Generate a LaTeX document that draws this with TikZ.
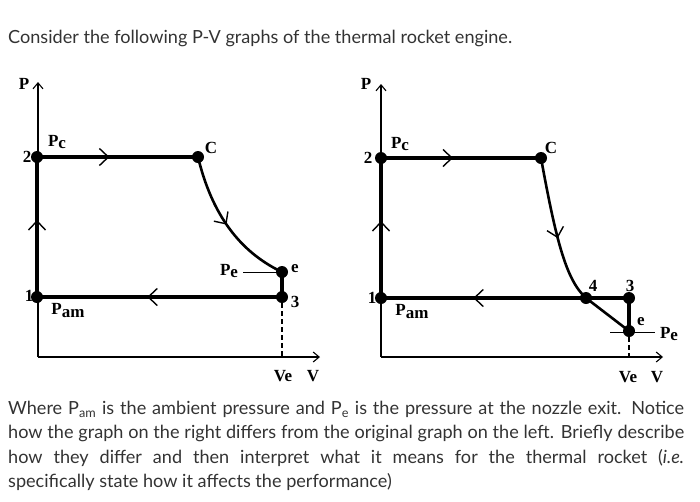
\documentclass[tikz,border=0pt]{standalone}
\usepackage{fontspec}
\setmainfont{Liberation Serif}
\newfontfamily\bodyfont{Lato}
\usetikzlibrary{arrows.meta,decorations.markings}
\tikzset{
  cyc/.style={line width=3.6pt},
  ax/.style={line width=1.1pt,-{Straight Barb[length=6pt,width=10pt]}},
  dot/.style={circle,fill=black,inner sep=0pt,minimum size=12pt},
  lbl/.style={font=\bfseries\fontsize{17}{18}\selectfont,inner sep=1pt},
  guide/.style={line width=1.1pt,dash pattern=on 5pt off 3pt},
  midarr/.style={postaction={decorate,decoration={markings,
    mark=at position #1 with {\arrow[line width=1.4pt]{Straight Barb[length=9pt,width=17pt]}}}}},
  body/.style={font=\bodyfont\fontsize{18.1}{24.4}\selectfont,color=black!80,inner sep=0pt}
}
\begin{document}
\begin{tikzpicture}[x=1pt,y=-1pt]
\useasboundingbox (0,0) rectangle (700,501);

\node[body,anchor=base west] (title) at (8,43) {Consider the following P-V graphs of the thermal rocket engine.};

% left graph
\coordinate (lo) at (38,357);
\coordinate (ltop) at (38,82);
\coordinate (lright) at (320,357);
\draw[ax] (lo) -- (ltop);
\draw[ax] (lo) -- (lright);
\node[dot] (l2) at (37,157) {};
\node[dot] (lC) at (198,157) {};
\node[dot] (le) at (282,272) {};
\node[dot] (l3) at (282,297) {};
\node[dot] (l1) at (37,297) {};
\coordinate (lve) at (282,357);
\draw[cyc,midarr=0.45] (l2.center) -- (lC.center);
\draw[line width=2.6pt,midarr=0.5] (lC.center) .. controls (212,215) and (240,252) .. (le.center);
\draw[cyc] (le.center) -- (l3.center);
\draw[cyc,midarr=0.55] (l3.center) -- (l1.center);
\draw[cyc,midarr=0.55] (l1.center) -- (l2.center);
\draw[guide] (l3) -- (lve);
\draw[line width=1pt] (243,272) -- (le);
\node[lbl] at (24,84) {P};
\node[lbl] at (57,142) {P\raisebox{-2pt}{c}};
\node[lbl] at (27,157) {2};
\node[lbl] at (211,148) {C};
\node[lbl] at (229,271) {P\raisebox{-2pt}{e}};
\node[lbl] at (295,269) {e};
\node[lbl] at (295,302) {3};
\node[lbl] at (29,296) {1};
\node[lbl] at (68,311) {P\raisebox{-3pt}{am}};
\node[lbl] at (283,376) {Ve};
\node[lbl] at (313,376) {V};

% right graph
\coordinate (ro) at (381,357);
\coordinate (rtop) at (381,84);
\coordinate (rright) at (663,357);
\draw[ax] (ro) -- (rtop);
\draw[ax] (ro) -- (rright);
\node[dot] (r2) at (381,158) {};
\node[dot] (rC) at (541,158) {};
\node[dot] (r4) at (586,298) {};
\node[dot] (r3) at (629,298) {};
\node[dot] (re) at (629,331) {};
\node[dot] (r1) at (381,298) {};
\coordinate (rve) at (629,357);
\draw[cyc,midarr=0.45] (r2.center) -- (rC.center);
\draw[line width=2.6pt,midarr=0.55] (rC.center) .. controls (556,240) and (566,280) .. (r4.center);
\draw[line width=2.6pt] (r4.center) -- (re.center);
\draw[cyc] (r4.center) -- (r3.center);
\draw[cyc] (r3.center) -- (re.center);
\draw[cyc,midarr=0.55] (r4.center) -- (r1.center);
\draw[cyc,midarr=0.55] (r1.center) -- (r2.center);
\draw[guide] (re) -- (rve);
\draw[line width=1pt] (610,332) -- (655,332);
\node[lbl] at (366,84) {P};
\node[lbl] at (400,144) {P\raisebox{-2pt}{c}};
\node[lbl] at (368,158) {2};
\node[lbl] at (551,148) {C};
\node[lbl] at (593,286) {4};
\node[lbl] at (630,286) {3};
\node[lbl] at (641,322) {e};
\node[lbl] at (669,334) {P\raisebox{-2pt}{e}};
\node[lbl] at (372,298) {1};
\node[lbl] at (412,312) {P\raisebox{-3pt}{am}};
\node[lbl] at (628,377) {Ve};
\node[lbl] at (657,377) {V};

\node[body,anchor=north west,text width=676pt,align=justify] (para) at (8,401)
{Where P\textsubscript{am} is the ambient pressure and P\textsubscript{e} is the pressure at the nozzle exit. Notice\linebreak how the graph on the right differs from the original graph on the left. Briefly describe\linebreak how they differ and then interpret what it means for the thermal rocket (\textit{i.e.}\linebreak specifically state how it affects the performance)};
\end{tikzpicture}
\end{document}
